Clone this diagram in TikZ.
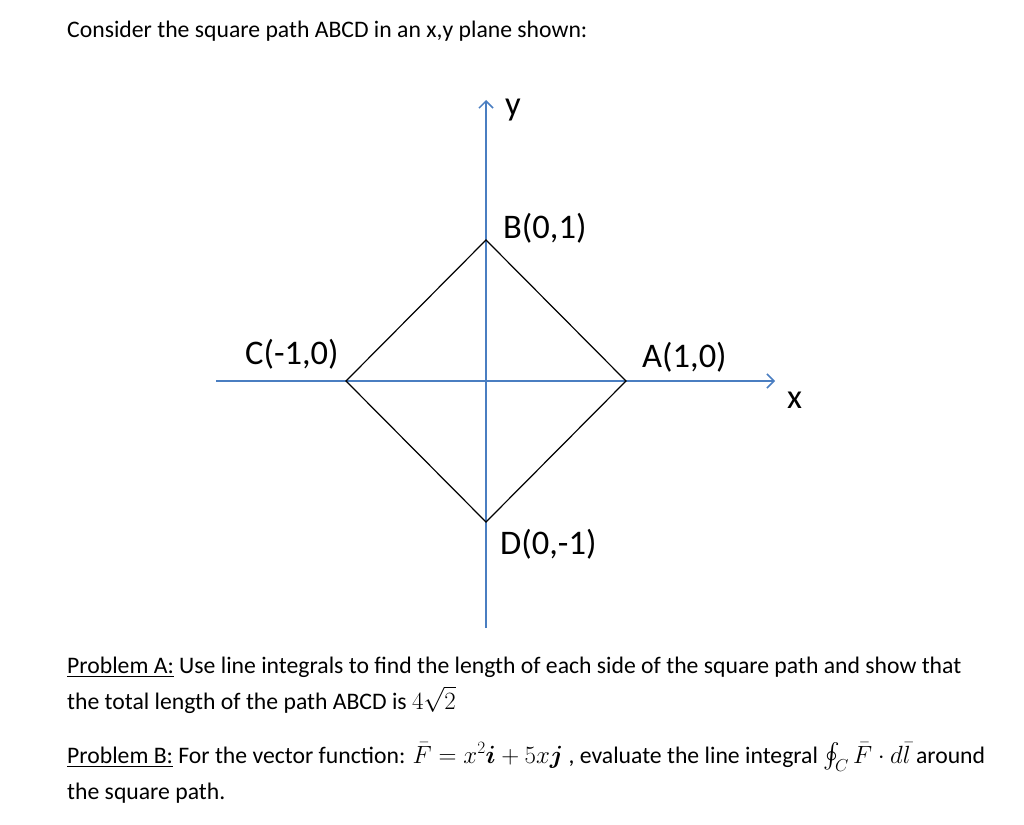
\documentclass[tikz,border=0pt]{standalone}
\usepackage{fontspec}
\setmainfont{Carlito}
\usepackage{amsmath}
\usetikzlibrary{arrows.meta}
\begin{document}
\begin{tikzpicture}[x=1pt,y=-1pt,
  axis/.style={draw={rgb,255:red,74;green,126;blue,193},line width=1.5pt,-{Straight Barb[length=7pt,width=14pt]}},
  sq/.style={draw=black,line width=1.2pt},
  lbl/.style={font=\fontsize{34.5}{40}\selectfont,inner sep=0pt,anchor=base west},
  txt/.style={font=\fontsize{23.7}{28}\selectfont,inner sep=0pt,anchor=base west}]
\useasboundingbox (0,0) rectangle (1024,824);
\node[txt] (title) at (67,38) {Consider the square path ABCD in an x,y plane shown:};
\coordinate (ybot) at (486,628);
\coordinate (ytop) at (486,100);
\coordinate (xl) at (216,381);
\coordinate (xr) at (775,381);
\draw[axis] (ybot) -- (ytop);
\draw[axis] (xl) -- (xr);
\coordinate (A) at (626,381);
\coordinate (B) at (486,240);
\coordinate (C) at (346,381);
\coordinate (D) at (486,522);
\draw[sq] (A) -- (B) -- (C) -- (D) -- cycle;
\node[lbl] (ly) at (505,115) {y};
\node[lbl] (lx) at (787,408) {x};
\node[lbl] (lB) at (503,238) {B(0,1)};
\node[lbl] (lC) at (245,364) {C(-1,0)};
\node[lbl] (lA) at (642,367) {A(1,0)};
\node[lbl] (lD) at (500,554) {D(0,-1)};
\node[txt] (pa1) at (67,673) {\underline{Problem A:} Use line integrals to find the length of each side of the square path and show that};
\node[txt] (pa2) at (67,709) {the total length of the path ABCD is $4\sqrt{2}$};
\node[txt] (pb1) at (67,763) {\underline{Problem B:} For the vector function: $\bar{F}=x^2\boldsymbol{i}+5x\boldsymbol{j}$\ , evaluate the line integral $\oint_C \bar{F}\cdot d\bar{l}$ around};
\node[txt] (pb2) at (67,799) {the square path.};
\end{tikzpicture}
\end{document}
